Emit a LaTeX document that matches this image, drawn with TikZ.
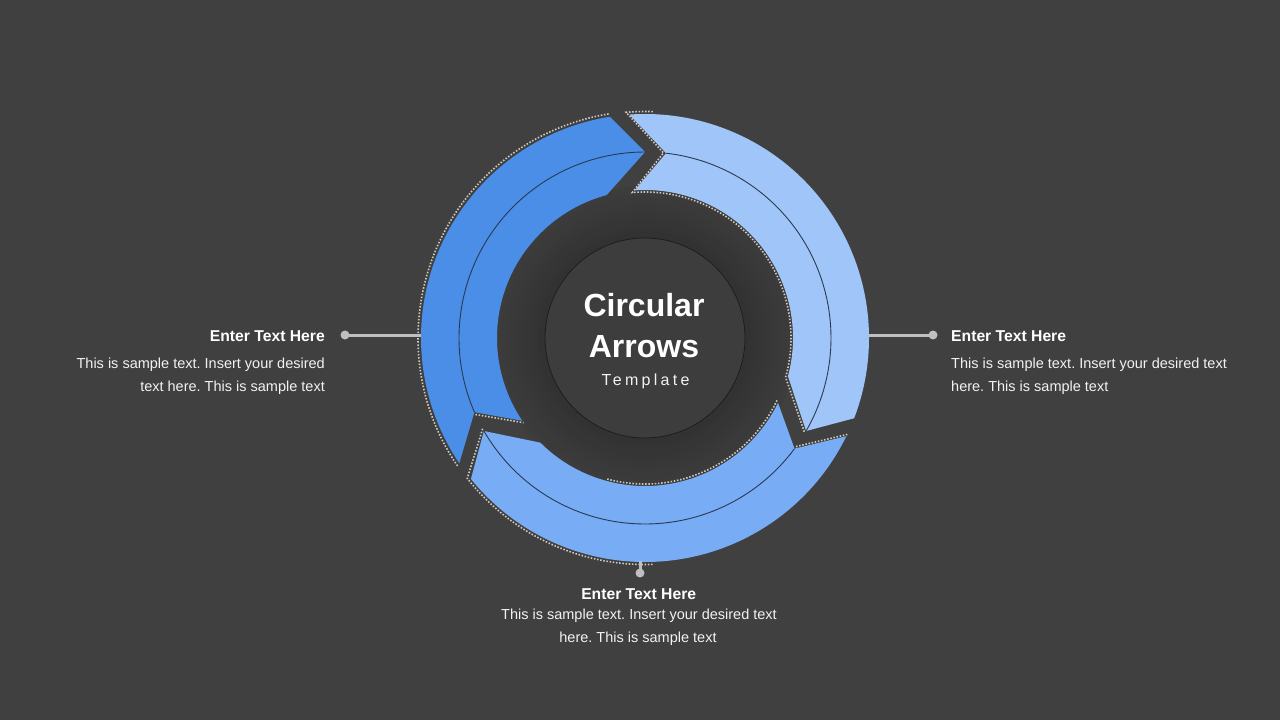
\documentclass[tikz,border=0pt]{standalone}
\usepackage{fontspec}
\setmainfont{Liberation Sans}
\newfontfamily\tplfont[LetterSpace=20.5]{Liberation Sans}
\frenchspacing
\definecolor{bgc}{HTML}{404040}
\definecolor{shadowc}{HTML}{2E2E2E}
\definecolor{darkblue}{HTML}{4A8EE8}
\definecolor{lightblue}{HTML}{A0C5F8}
\definecolor{midblue}{HTML}{78ACF4}
\definecolor{midlinec}{HTML}{2A3A52}
\definecolor{dotc}{HTML}{D2CABE}
\definecolor{connc}{HTML}{BFBFBF}
\definecolor{centerc}{HTML}{3D3D3D}
\definecolor{bodyc}{HTML}{F2F2F2}
\tikzset{
  midline/.style={draw=midlinec, line width=0.9pt},
  dotline/.style={draw=dotc, line width=1.6pt, dash pattern=on 1.5pt off 1.7pt},
  conn/.style={draw=connc, line width=3pt},
  cdot/.style={circle, fill=connc, inner sep=0pt, minimum size=9pt},
  ttl/.style={text=white, inner sep=0pt, font=\fontsize{15.7}{18}\selectfont\bfseries},
  bodytxt/.style={text=bodyc, inner sep=0pt, font=\fontsize{14.5}{17}\selectfont},
}
\newcommand\arrowshape[3]{%
  % #1 colour, #2 tip angle, #3 notch angle
  \fill[#1] ({#3+10.5}:224) arc[start angle={#3+10.5}, end angle={#2+9}, radius=224]
    -- (#2:186) -- ({#2+15}:148)
    arc[start angle={#2+15}, end angle={#3+10.5}, radius=148]
    -- (#3:186) -- cycle;
  \draw[midline] (#3:186) arc[start angle=#3, end angle=#2, radius=186];
}
\begin{document}
\begin{tikzpicture}[x=1pt,y=1pt]
\fill[bgc] (0,0) rectangle (1280,-720);
\useasboundingbox (0,0) rectangle (1280,-720);
\begin{scope}[shift={(645,-338)}]
  % shadow ring behind the centre
  \foreach \i in {0,...,24}{
    \pgfmathtruncatemacro{\p}{round(15+2.6*\i)}
    \fill[shadowc!\p!bgc] (0,0) circle ({152-2*\i});
  }
  % arrows
  \arrowshape{darkblue}{90}{203.5}
  \arrowshape{lightblue}{-30}{83.5}
  \arrowshape{midblue}{-150}{-36.5}
  % dotted highlights
  \draw[dotline] (214.3:227) arc[start angle=214.3, end angle=99, radius=227];
  \draw[dotline] (204.3:186) -- (214.9:148);
  \draw[dotline] (88:226.5) arc[start angle=88, end angle=94.8, radius=226.5]
    -- (84.3:186) -- (95:146) arc[start angle=95, end angle=-15.6, radius=146]
    -- (-30.8:186);
  \draw[dotline] (-35.7:186) -- (-25.3:225);
  \draw[dotline] (-25.3:146) arc[start angle=-25.3, end angle=-105, radius=146];
  \draw[dotline] (-150.8:186) -- (-141.7:226.5) arc[start angle=-141.7, end angle=-88, radius=226.5];
  % centre disc
  \node[circle, fill=centerc, draw=black!55!bgc, line width=0.8pt, minimum size=200pt, inner sep=0pt] (hub) at (0,0) {};
\end{scope}
% centre texts
\node[text=white, inner sep=0pt, anchor=base, font=\fontsize{32}{36}\selectfont\bfseries] (t1) at (644,-316.7) {Circular};
\node[text=white, inner sep=0pt, anchor=base, font=\fontsize{32}{36}\selectfont\bfseries] (t2) at (644,-357.3) {Arrows};
\node[text=bodyc, inner sep=0pt, anchor=base, font=\fontsize{16}{18}\tplfont] (t3) at (645.5,-385) {Template};
% connectors
\node[cdot] (ldot) at (345,-335) {};
\coordinate (lend) at (421,-335);
\draw[conn] (ldot.center) -- (lend);
\node[cdot] (rdot) at (933,-335) {};
\coordinate (rend) at (869,-335);
\draw[conn] (rend) -- (rdot.center);
\node[cdot] (bdot) at (640,-573) {};
\coordinate (bend) at (640,-561);
\draw[conn] (bend) -- (bdot.center);
% left text
\node[ttl, anchor=base east] (lt) at (325,-341) {Enter Text Here};
\node[bodytxt, anchor=base east] (lb1) at (325,-368.3) {This is sample text. Insert your desired};
\node[bodytxt, anchor=base east] (lb2) at (325,-391) {text here. This is sample text};
% right text
\node[ttl, anchor=base west] (rt) at (951,-341) {Enter Text Here};
\node[bodytxt, anchor=base west] (rb1) at (951,-368.3) {This is sample text. Insert your desired text};
\node[bodytxt, anchor=base west] (rb2) at (951,-391) {here. This is sample text};
% bottom text
\node[ttl, anchor=base] (bt) at (638.7,-599.3) {Enter Text Here};
\node[bodytxt, anchor=base] (bb1) at (639,-619.5) {This is sample text. Insert your desired text};
\node[bodytxt, anchor=base] (bb2) at (638,-642.3) {here. This is sample text};
\end{tikzpicture}
\end{document}
